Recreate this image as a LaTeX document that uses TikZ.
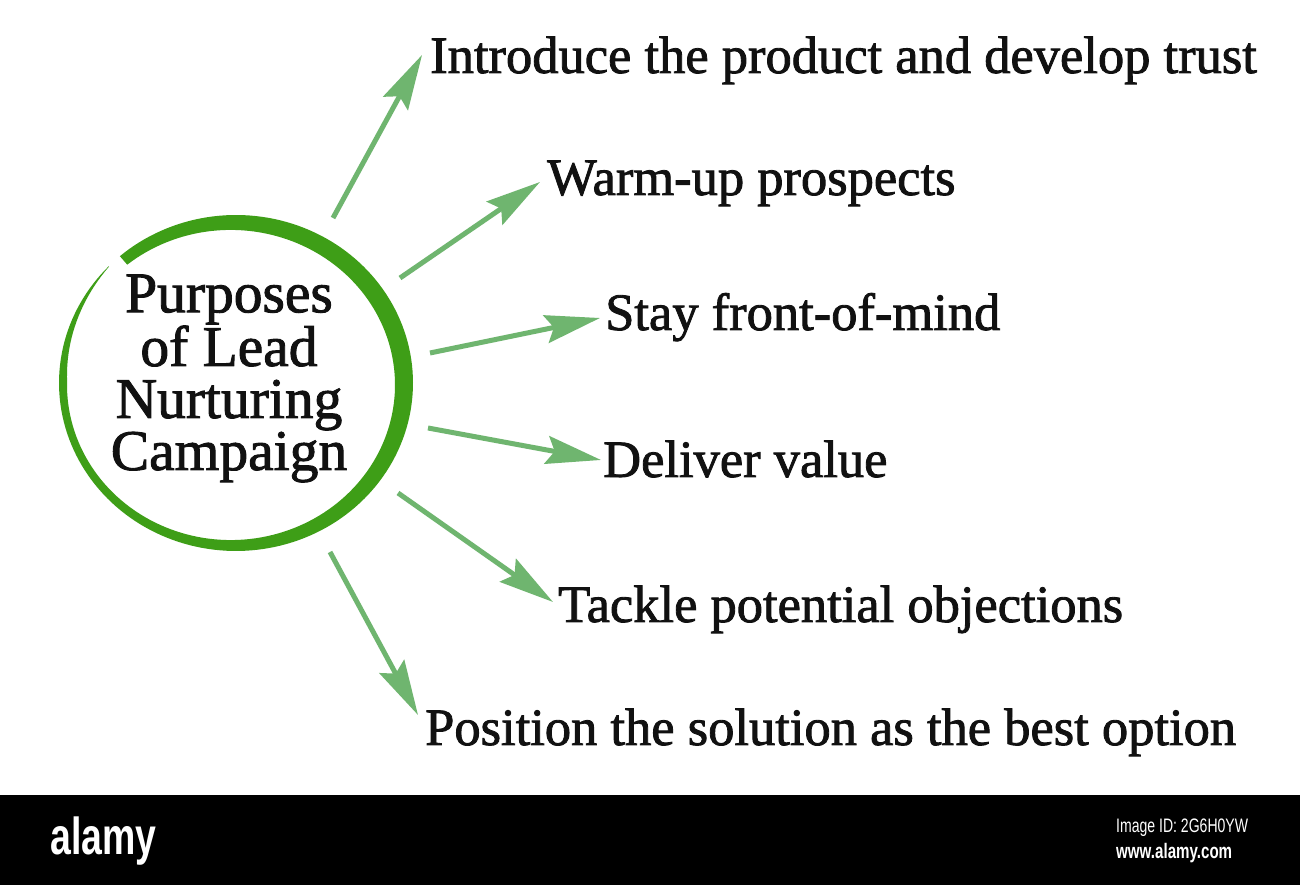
\documentclass[tikz,border=0pt]{standalone}
\usepackage{fontspec}
\setmainfont{Liberation Serif}
\newfontfamily\lblfont{Liberation Serif}[FakeBold=1.6]
\newfontfamily\markfont{Liberation Sans}[FakeStretch=0.72]
\usetikzlibrary{arrows.meta}
\definecolor{ringgreen}{RGB}{62,158,23}
\definecolor{arrowgreen}{RGB}{111,181,111}
\definecolor{inkblack}{RGB}{17,17,17}
\tikzset{
  declare function={thk(\t)=(13+5*cos(\t)+2*sin(\t))*min(1,(\t+226)/45);},
  lbl/.style={anchor=base west, inner sep=0pt, text=inkblack,
    font=\lblfont\fontsize{52.5}{56}\selectfont},
  hubtext/.style={align=center, inner sep=0pt, text=inkblack,
    font=\lblfont\fontsize{57.5}{52}\selectfont},
  arr/.style={draw=arrowgreen, line width=5pt,
    -{Stealth[length=55pt,width=28pt,inset=8pt]}},
  wm/.style={anchor=base west, inner sep=0pt, text=white}
}
\begin{document}
\begin{tikzpicture}[x=1pt,y=1pt]
\useasboundingbox (0,0) rectangle (1300,885);
\fill[white] (0,0) rectangle (1300,885);

% hub
\node[hubtext] (hub) at (229,506.5) {Purposes\\of Lead\\Nurturing\\Campaign};
\fill[ringgreen]
  plot[domain=131:-224, samples=180, variable=\t]
    ({236+177*cos(\t)},{502+168*sin(\t)})
  -- plot[domain=-224:131, samples=180, variable=\t]
    ({236+(177-thk(\t))*cos(\t)},{502+(168-thk(\t))*sin(\t)})
  -- cycle;

% labels
\node[lbl] (t1) at (430,812) {Introduce the product and develop trust};
\node[lbl] (t2) at (547,690) {Warm-up prospects};
\node[lbl] (t3) at (605,555) {Stay front-of-mind};
\node[lbl] (t4) at (603,408) {Deliver value};
\node[lbl] (t5) at (558,263) {Tackle potential objections};
\node[lbl] (t6) at (425,140) {Position the solution as the best option};

% connector ends
\coordinate (s1) at (333,667); \coordinate (e1) at (422,830);
\coordinate (s2) at (400,607); \coordinate (e2) at (540,703);
\coordinate (s3) at (430,532); \coordinate (e3) at (600,567);
\coordinate (s4) at (428,457); \coordinate (e4) at (601,425);
\coordinate (s5) at (398,392); \coordinate (e5) at (553,283);
\coordinate (s6) at (330,333); \coordinate (e6) at (418,170);
\foreach \i in {1,...,6} \draw[arr] (s\i) -- (e\i);

% watermark bar
\fill[black] (0,0) rectangle (1300,90);
\node[wm, font=\markfont\bfseries\fontsize{52}{52}\selectfont] (logo) at (50,30) {alamy};
\node[wm, font=\markfont\fontsize{19.5}{19.5}\selectfont] (imgid) at (1116,52) {Image ID: 2G6H0YW};
\node[wm, font=\markfont\bfseries\fontsize{21}{21}\selectfont] (url) at (1116,26) {www.alamy.com};
\end{tikzpicture}
\end{document}
